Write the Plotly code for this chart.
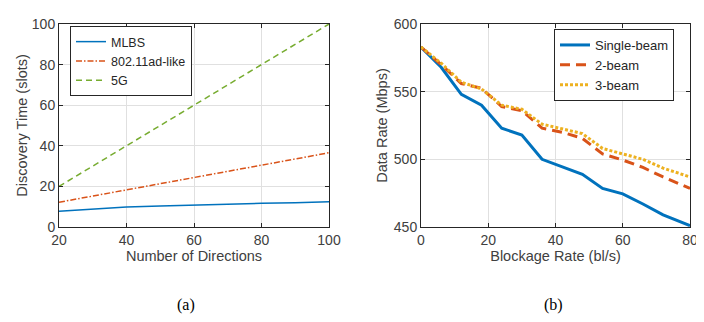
import plotly.graph_objects as go

# (a) discovery time vs number of directions
directions = [20, 30, 40, 50, 60, 70, 80, 90, 100]
mlbs = [7.8, 8.9, 9.8, 10.4, 10.9, 11.3, 11.7, 12.0, 12.4]
ad_like = [12.2, 15.2, 18.2, 21.3, 24.4, 27.4, 30.4, 33.5, 36.6]
g5 = [20, 30, 40, 50, 60, 70, 80, 90, 100]

# (b) data rate vs blockage rate
blockage = [0, 6, 12, 18, 24, 30, 36, 42, 48, 54, 60, 66, 72, 80]
single_beam = [583, 568, 548, 540, 523, 518, 500, 494.5, 489, 478.5, 474.5, 467, 459, 451]
two_beam = [583, 570, 556, 552.5, 539, 536, 523, 520, 515.5, 504, 499.5, 494, 487, 478.5]
three_beam = [583, 571, 557, 552, 540, 537, 526, 522.5, 519, 508, 504, 500, 493.5, 487]

BLUE = "#0072BD"
RED = "#D95319"
YELLOW = "#EDB120"
GREEN = "#77AC30"
INK = "#262626"
FONT = "Liberation Sans, Arial, sans-serif"
SERIF = "Liberation Serif, Times New Roman, serif"

# page has an 8px body margin, so the figure sits at (8, 8)
W, H, OFF = 696, 314, 8


def px(x):
    return (x - OFF) / W


def py(y):
    return 1 - (y - OFF) / H


fig = go.Figure()

fig.add_trace(go.Scatter(x=directions, y=mlbs, name="MLBS", mode="lines",
                         line=dict(color=BLUE, width=1.5), legend="legend"))
fig.add_trace(go.Scatter(x=directions, y=ad_like, name="802.11ad-like", mode="lines",
                         line=dict(color=RED, width=1.5, dash="6px,2px,1.5px,2px"), legend="legend"))
fig.add_trace(go.Scatter(x=directions, y=g5, name="5G", mode="lines",
                         line=dict(color=GREEN, width=1.5, dash="6px,4px"), legend="legend"))

fig.add_trace(go.Scatter(x=blockage, y=single_beam, name="Single-beam", mode="lines",
                         line=dict(color=BLUE, width=3), xaxis="x2", yaxis="y2", legend="legend2"))
fig.add_trace(go.Scatter(x=blockage, y=two_beam, name="2-beam", mode="lines",
                         line=dict(color=RED, width=3, dash="10px,6px"), xaxis="x2", yaxis="y2", legend="legend2"))
fig.add_trace(go.Scatter(x=blockage, y=three_beam, name="3-beam", mode="lines",
                         line=dict(color=YELLOW, width=3, dash="3px,2px"), xaxis="x2", yaxis="y2", legend="legend2"))

axis_style = dict(showline=True, linecolor=INK, linewidth=1, mirror="ticks",
                  ticks="inside", ticklen=4, tickcolor=INK, automargin=False,
                  showgrid=True, gridcolor="#E0E0E0", gridwidth=1, zeroline=False,
                  tickfont=dict(family=FONT, size=14, color="#404040"),
                  title_font=dict(family=FONT, size=14.5, color="#404040"))

ydom = [py(227), py(24)]

fig.update_layout(
    width=W, height=H,
    margin=dict(l=0, r=0, t=0, b=0),
    paper_bgcolor="white", plot_bgcolor="white",
    font=dict(family=FONT, color=INK),
    xaxis=dict(domain=[px(59), px(329)], range=[20, 100], dtick=20,
               title=dict(text="Number of Directions", standoff=2), **axis_style),
    yaxis=dict(domain=ydom, range=[0, 100], dtick=20,
               title=dict(text="Discovery Time (slots)", standoff=0), **axis_style),
    xaxis2=dict(domain=[px(421), px(690)], range=[0, 80], dtick=20, anchor="y2",
                title=dict(text="Blockage Rate (bl/s)", standoff=2), **axis_style),
    yaxis2=dict(domain=ydom, range=[450, 600], dtick=50, anchor="x2",
                title=dict(text="Data Rate (Mbps)", standoff=2), **axis_style),
    legend=dict(x=px(70), y=py(26), xanchor="left", yanchor="top",
                bgcolor="white", bordercolor=INK, borderwidth=1,
                font=dict(family=FONT, size=12.5, color=INK),
                tracegroupgap=0, itemwidth=30),
    legend2=dict(x=px(674), y=py(29), xanchor="right", yanchor="top",
                 bgcolor="white", bordercolor=INK, borderwidth=1,
                 font=dict(family=FONT, size=13, color=INK),
                 tracegroupgap=0, itemwidth=30),
    annotations=[
        dict(text="(a)", x=px(186), y=py(305), xref="paper", yref="paper",
             xanchor="center", yanchor="middle", showarrow=False,
             font=dict(family=SERIF, size=16, color="black")),
        dict(text="(b)", x=px(553), y=py(305), xref="paper", yref="paper",
             xanchor="center", yanchor="middle", showarrow=False,
             font=dict(family=SERIF, size=16, color="black")),
    ],
)

fig.write_html("out.html")
